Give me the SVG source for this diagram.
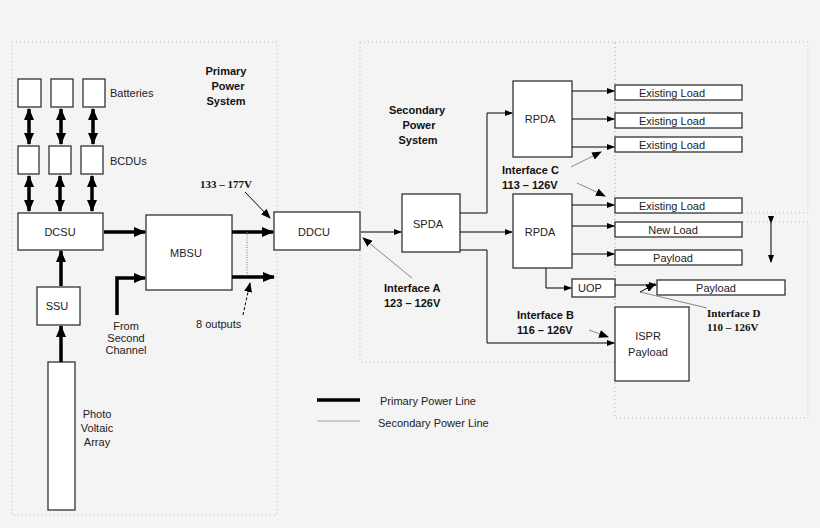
<svg xmlns="http://www.w3.org/2000/svg" width="820" height="528" viewBox="0 0 820 528">
<defs>
<marker id="ah" markerWidth="8" markerHeight="6" refX="7" refY="3" orient="auto" markerUnits="userSpaceOnUse"><path d="M0,0 L8,3 L0,6 z" fill="#000"/></marker>
<marker id="ahb" markerWidth="12" markerHeight="10" refX="11" refY="5" orient="auto-start-reverse" markerUnits="userSpaceOnUse"><path d="M0,0 L12,5 L0,10 z" fill="#000"/></marker>
<marker id="ahs" markerWidth="10" markerHeight="8" refX="9" refY="4" orient="auto-start-reverse" markerUnits="userSpaceOnUse"><path d="M0,0 L10,4 L0,8 z" fill="#000"/></marker>
</defs>
<style>
.b{fill:#fff;stroke:#333;stroke-width:1.3}
.t{font-family:"Liberation Sans",Arial,sans-serif;font-size:11px;fill:#222}
.c{text-anchor:middle}
.h{font-family:"Liberation Sans",Arial,sans-serif;font-size:11px;font-weight:bold;fill:#111}
.s{font-family:"Liberation Serif","Times New Roman",serif;font-size:11px;font-weight:bold;fill:#111}
.d{fill:none;stroke:#bbb;stroke-width:1;stroke-dasharray:1,3}
.th{stroke:#000;stroke-width:3.5;fill:none}
.tn{stroke:#000;stroke-width:1;fill:none}
.g{stroke:#888;stroke-width:1;fill:none}
</style>
<rect width="820" height="528" fill="#f4f4f4"/>
<g id="regions">
<rect class="d" x="12" y="42" width="265" height="473"/>
<rect class="d" x="360" y="42" width="255" height="320"/>
<path class="d" d="M615,42 H808 V213 H743"/>
<path class="d" d="M743,222 H808 V418 H615 V42"/>
</g>
<g id="batteries"><rect class="b" x="18" y="79" width="23" height="28"/><rect class="b" x="51" y="79" width="22" height="28"/><rect class="b" x="83" y="79" width="22" height="28"/><text class="t" x="110" y="97">Batteries</text></g>
<g id="bcdus"><rect class="b" x="18" y="146" width="21" height="28"/><rect class="b" x="49" y="146" width="22" height="28"/><rect class="b" x="81" y="146" width="22" height="28"/><text class="t" x="110" y="165">BCDUs</text></g>
<g id="dcsu"><rect class="b" x="18" y="213" width="85" height="37"/><text class="t c" x="60" y="236">DCSU</text></g>
<g id="ssu"><rect class="b" x="37" y="287" width="43" height="38"/><text class="t c" x="57" y="310">SSU</text></g>
<g id="pv"><rect class="b" x="48" y="362" width="27" height="148"/><text class="t c" x="97" y="418">Photo</text><text class="t c" x="97" y="432">Voltaic</text><text class="t c" x="97" y="446">Array</text></g>
<g id="mbsu"><rect class="b" x="146" y="215" width="86" height="75"/><text class="t c" x="186" y="257">MBSU</text></g>
<g id="ddcu"><rect class="b" x="274" y="212" width="86" height="38"/><text class="t c" x="314" y="236">DDCU</text></g>
<g id="spda"><rect class="b" x="402" y="194" width="58" height="58"/><text class="t c" x="428" y="228">SPDA</text></g>
<g id="rpda1"><rect class="b" x="513" y="81" width="59" height="76"/><text class="t c" x="540" y="123">RPDA</text></g>
<g id="rpda2"><rect class="b" x="513" y="194" width="59" height="74"/><text class="t c" x="540" y="236">RPDA</text></g>
<g id="loads">
<rect class="b" x="615" y="85" width="127" height="15"/><text class="t c" x="672" y="97">Existing Load</text>
<rect class="b" x="615" y="113" width="127" height="15"/><text class="t c" x="672" y="125">Existing Load</text>
<rect class="b" x="615" y="137" width="127" height="15"/><text class="t c" x="672" y="149">Existing Load</text>
<rect class="b" x="615" y="198" width="127" height="15"/><text class="t c" x="672" y="210">Existing Load</text>
<rect class="b" x="615" y="222" width="127" height="15"/><text class="t c" x="673" y="234">New Load</text>
<rect class="b" x="615" y="250" width="127" height="15"/><text class="t c" x="673" y="262">Payload</text>
</g>
<g id="uop"><rect class="b" x="572" y="279" width="43" height="18"/><text class="t c" x="590" y="292">UOP</text></g>
<g id="payload2"><rect class="b" x="657" y="280" width="128" height="15"/><text class="t c" x="716" y="292">Payload</text></g>
<g id="ispr"><rect class="b" x="615" y="307" width="74" height="74"/><text class="t c" x="648" y="340">ISPR</text><text class="t c" x="648" y="356">Payload</text></g>
<g id="labels">
<text class="h c" x="226" y="75">Primary</text><text class="h c" x="228" y="90">Power</text><text class="h c" x="226" y="105">System</text>
<text class="h c" x="417" y="114">Secondary</text><text class="h c" x="419" y="129">Power</text><text class="h c" x="418" y="144">System</text>
<text class="s" x="200" y="188">133 – 177V</text>
<text class="t c" x="126" y="330">From</text><text class="t c" x="126" y="342">Second</text><text class="t c" x="126" y="354">Channel</text>
<text class="t" x="196" y="328">8 outputs</text>
<text class="h" x="384" y="292">Interface A</text><text class="h" x="384" y="307">123 – 126V</text>
<text class="h" x="502" y="174">Interface C</text><text class="h" x="502" y="189">113 – 126V</text>
<text class="h" x="517" y="319">Interface B</text><text class="h" x="517" y="334">116 – 126V</text>
<text class="s" x="707" y="317">Interface D</text><text class="s" x="707" y="331">110 – 126V</text>
<text class="t" x="380" y="405">Primary Power Line</text>
<text class="t" x="378" y="427">Secondary Power Line</text>
</g>
<g id="connectors">
<line class="th" x1="29" y1="109" x2="29" y2="144" marker-start="url(#ahb)" marker-end="url(#ahb)"/>
<line class="th" x1="61" y1="109" x2="61" y2="144" marker-start="url(#ahb)" marker-end="url(#ahb)"/>
<line class="th" x1="93" y1="109" x2="93" y2="144" marker-start="url(#ahb)" marker-end="url(#ahb)"/>
<line class="th" x1="29" y1="176" x2="29" y2="211" marker-start="url(#ahb)" marker-end="url(#ahb)"/>
<line class="th" x1="60" y1="176" x2="60" y2="211" marker-start="url(#ahb)" marker-end="url(#ahb)"/>
<line class="th" x1="92" y1="176" x2="92" y2="211" marker-start="url(#ahb)" marker-end="url(#ahb)"/>
<line class="th" x1="104" y1="232" x2="145" y2="232" marker-end="url(#ahb)"/>
<line class="th" x1="61" y1="286" x2="61" y2="251" marker-end="url(#ahb)"/>
<line class="th" x1="61" y1="362" x2="61" y2="326" marker-end="url(#ahb)"/>
<path class="th" d="M117,315 V278 H145" marker-end="url(#ahb)"/>
<line class="th" x1="232" y1="232" x2="273" y2="232" marker-end="url(#ahb)"/>
<line class="th" x1="232" y1="277" x2="274" y2="277" marker-end="url(#ahb)"/>
<line x1="247" y1="232" x2="247" y2="277" stroke="#777" stroke-width="1" stroke-dasharray="1,1.5"/>
<line class="tn" x1="243" y1="315" x2="250" y2="283" stroke-dasharray="3,2" marker-end="url(#ahs)"/>
<line class="tn" x1="245" y1="192" x2="270" y2="218" marker-end="url(#ahs)"/>
<line class="tn" x1="361" y1="232" x2="401" y2="232" marker-end="url(#ah)"/>
<line class="g" x1="412" y1="278" x2="363" y2="238" marker-end="url(#ahs)"/>
<path class="tn" d="M460,213 H487 V113 H512" marker-end="url(#ah)"/>
<line class="tn" x1="460" y1="232" x2="512" y2="232" marker-end="url(#ah)"/>
<path class="tn" d="M460,250 H487 V343 H614" marker-end="url(#ah)"/>
<line class="tn" x1="572" y1="91" x2="614" y2="91" marker-end="url(#ah)"/>
<line class="tn" x1="572" y1="119" x2="614" y2="119" marker-end="url(#ah)"/>
<line class="tn" x1="572" y1="147" x2="614" y2="147" marker-end="url(#ah)"/>
<line class="tn" x1="572" y1="205" x2="614" y2="205" marker-end="url(#ah)"/>
<line class="tn" x1="572" y1="226" x2="614" y2="226" marker-end="url(#ah)"/>
<line class="tn" x1="572" y1="254" x2="614" y2="254" marker-end="url(#ah)"/>
<path class="tn" d="M546,268 V288 H571" marker-end="url(#ah)"/>
<line class="tn" x1="615" y1="285" x2="656" y2="285" marker-end="url(#ah)"/>
<path class="g" d="M707,308 L640,292"/>
<line class="tn" x1="640" y1="292" x2="655" y2="284" marker-end="url(#ahs)"/>
<line class="g" x1="571" y1="167" x2="601" y2="152" stroke="#444" marker-end="url(#ahs)"/>
<line class="g" x1="577" y1="183" x2="605" y2="196" stroke="#444" marker-end="url(#ahs)"/>
<line class="g" x1="589" y1="330" x2="608" y2="337" stroke="#444" marker-end="url(#ahs)"/>
<line class="tn" x1="771" y1="223" x2="771" y2="262" marker-start="url(#ah)" marker-end="url(#ah)"/>
<line class="th" x1="317" y1="400" x2="360" y2="400"/>
<line x1="317" y1="421" x2="360" y2="421" stroke="#bbb" stroke-width="1.5"/>
</g>
</svg>
